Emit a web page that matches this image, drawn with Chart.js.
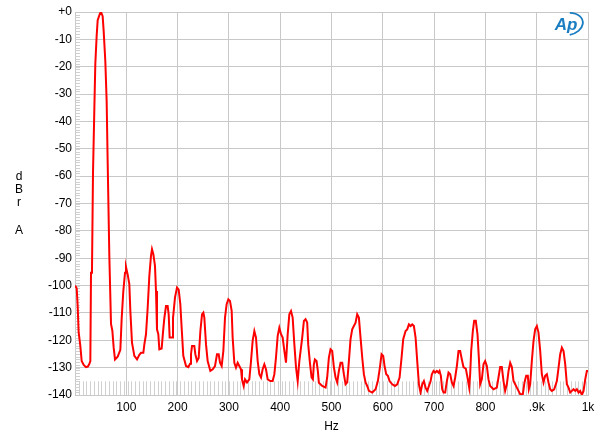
<!DOCTYPE html>
<html>
<head>
<meta charset="utf-8">
<script src="https://cdn.jsdelivr.net/npm/chart.js@4/dist/chart.umd.min.js"></script>
<style>
html,body{margin:0;padding:0;background:#fff;}
#wrap{width:600px;height:443px;}
</style>
</head>
<body>
<div id="wrap"><canvas id="c" width="600" height="443"></canvas></div>
<script>
// Frequency (Hz) of each trace point
const freqHz = [0,3.3,5.2,7.1,10.4,13,17,21.4,25,27.9,29.9,31.2,33.1,35.1,37.7,39.6,42.2,44.2,48.7,50.7,53.9,55.9,59.1,61.7,63.7,66.9,70.2,72.8,75.4,78,83.2,88.4,91,94.2,97.5,99.4,102.7,105.9,107.9,111.1,115.7,120.9,125.4,128.7,133.2,135.2,138.4,141.7,144.9,148.1,150.1,152.7,155.9,157.9,159.8,162.4,164.4,168.9,171.5,174.1,177.4,180.6,182.6,184.5,189.1,191,194.9,198.8,202.1,205.3,207.9,211.1,216.4,220.9,224.2,226.1,228.1,232.6,234.6,237.9,241.1,244.4,247.6,250.2,252.1,255.4,258.6,263.8,268.4,272.9,276.8,280.1,282.7,285.9,289.2,292.4,295.6,298.9,302.1,305.4,307.3,310.6,313.8,317.1,320.3,323.6,325.5,328.8,331.4,335.3,339.8,343.1,346.3,349.6,352.8,356.1,359.3,362.6,365.8,369.1,372.3,375.6,380.8,385.3,388.6,391.8,395.1,398.3,401.6,404.8,408.1,411.3,414.6,417.8,421.1,424.3,427.6,430.8,434.1,437.3,439.7,442.9,446.2,449.4,452.6,454.6,457.8,461.1,463.7,465.6,467.6,470.8,473.4,475.4,481.9,488.4,491.6,494.9,498.1,501.4,504.6,507.9,511.1,514.4,517.6,520.9,524.1,527.4,530.6,533.9,537.1,540.4,543.6,546.9,550.1,553.4,556.6,559.9,563.1,566.4,569.6,572.9,579.4,585.9,590.4,594.3,597.6,600.8,603.4,606.7,609.9,613.2,618.4,623.6,628.1,632.7,636.6,639.8,644.4,647.6,650.9,654.1,657.4,660.6,663.9,667.1,670.4,673.6,676.9,680.1,683.4,686.6,689.9,693.1,695.6,698.9,702.1,705.4,708.6,710.6,713.2,715.8,718.4,721.6,724.9,728.1,731.4,734.6,737.9,741.1,744.4,747.6,750.8,754.1,757.3,761.9,765.1,768.4,770.3,772.3,775.5,778.1,781.3,784.6,787.2,789.8,793,796.3,799.5,802.8,806,809.3,815.8,822.3,825.5,828.8,832,835.3,838.5,841.8,845.1,848.3,851.6,854.8,858.1,861.3,867.8,873,876.2,879.5,882.7,884.7,887.3,890.5,893.8,897,900.3,903.5,906.8,910,913.3,916.5,919.8,923,926.3,929.5,934.1,939.3,942.6,945.8,949.1,952.3,955.6,958.8,962.1,965.3,968.6,971.8,975.1,978.3,981.6,984.8,988.1,991.3,994.6,997.8,1000];
// Level (dBr A) of each trace point
const levelDb = [-100,-101,-107.5,-117,-122,-127.6,-129,-129.8,-129.6,-128.7,-127.6,-95.3,-94.7,-58.7,-35.5,-19,-8.8,-3,-0.5,0,-1.5,-7,-18,-32.5,-55,-89,-114,-116.5,-122.7,-127,-126,-123.5,-112,-102,-95.3,-93.2,-96,-99.5,-109.3,-120.9,-125.7,-127,-125.3,-124.6,-124.6,-121.5,-117.8,-108,-96.5,-89.2,-86.7,-88.5,-92.8,-102,-116,-117.8,-123.3,-123,-117.2,-112,-107.5,-107.5,-110.5,-119,-119,-112,-104.4,-100.7,-101.5,-106.8,-115.4,-125.7,-129.4,-129.8,-128.6,-125.1,-122.1,-122.1,-125.1,-127.6,-126.5,-116.6,-110.5,-109.9,-111.7,-121.5,-127.6,-131.2,-130.6,-129.4,-125.1,-125.1,-128.2,-129.4,-123.9,-111.7,-106.8,-105,-105.6,-109.2,-119,-128.2,-130,-128.2,-129.4,-130.6,-134.3,-136.7,-134.3,-135.4,-134.3,-127.6,-120.2,-116.6,-119,-127.6,-132.4,-133.6,-130.6,-128.8,-130.6,-134.3,-134.9,-134.9,-132.4,-126.3,-118.4,-115.4,-117.8,-119,-123.9,-128.2,-117.8,-110.5,-109.3,-111.7,-121.5,-129.8,-134.9,-127.6,-124,-119,-112.9,-112.3,-113.5,-121.5,-128,-133.6,-134.3,-128.8,-127,-127.6,-131.2,-135.5,-136.7,-137.3,-133.6,-126.3,-123.3,-123.9,-129.8,-133.6,-135.4,-131.2,-128.2,-128.2,-132.4,-136.1,-135.4,-127.6,-119.6,-116,-114.8,-113.6,-110.5,-111.7,-119,-126.3,-132.4,-135.4,-136.7,-138.5,-139.1,-137.9,-134.9,-130,-125.1,-125.7,-129.4,-132.4,-133,-134.9,-136.1,-136.7,-136.1,-133.6,-126.3,-119.6,-116.6,-116,-114.2,-114.8,-114.2,-114.8,-119,-127.6,-136.1,-139.1,-136.1,-134.9,-137.3,-138.5,-136.7,-135,-132.4,-131.2,-131.8,-131.2,-131.8,-131.2,-133,-137.9,-139.1,-139.1,-134.9,-131.8,-132.4,-135.4,-136.7,-133.6,-129.4,-123.9,-123.9,-127,-129.8,-130.4,-133.6,-137.3,-132.4,-123.9,-116.6,-112.9,-112.9,-117.8,-126.3,-136.1,-134.3,-128.8,-127.6,-129.4,-134.3,-136.7,-137.9,-137.3,-133.6,-129.8,-129.8,-134.9,-138.5,-136.1,-131.2,-128.2,-129.8,-134.9,-136.1,-137.3,-139.7,-139.7,-135.4,-133,-133,-137.9,-136.1,-127.6,-120.2,-116,-114.8,-117.2,-123.9,-132.4,-135.4,-133,-132.4,-135.4,-137.9,-138.5,-137.9,-134.9,-130,-125.1,-122.7,-123.9,-128.8,-136.1,-137.3,-139.1,-138.5,-137.9,-138.5,-137.9,-139.1,-138.5,-140,-138.5,-134.3,-131.2,-131.2];

// Axis tick labels
const xTickValues = [100,200,300,400,500,600,700,800,900,1000];
const xTickLabels = ['100','200','300','400','500','600','700','800','.9k','1k'];
const yTickValues = [0,-10,-20,-30,-40,-50,-60,-70,-80,-90,-100,-110,-120,-130,-140];
const yTickLabels = ['+0','-10','-20','-30','-40','-50','-60','-70','-80','-90','-100','-110','-120','-130','-140'];
const yTitleLetters = ['d','B','r','','A'];
const xTitle = 'Hz';

const points = freqHz.map((f,i)=>({x:f,y:levelDb[i]}));
const FONT = '"Liberation Sans", Arial, sans-serif';
const GRID = '#c8c8c8';

const decor = {
  id:'decor',
  beforeDatasetsDraw(chart){
    const ctx = chart.ctx, xs = chart.scales.x, ys = chart.scales.y, a = chart.chartArea;
    ctx.save();
    ctx.strokeStyle = '#d0d0d0';
    ctx.lineWidth = 1;
    ctx.beginPath();
    for (let f = 7.324; f < 1000; f += 7.324) {
      const px = Math.round(xs.getPixelForValue(f)) + 0.5;
      ctx.moveTo(px, ys.getPixelForValue(-135));
      ctx.lineTo(px, a.bottom);
    }
    for (let v = -1; v > -140; v -= 1) {
      const py = Math.round(ys.getPixelForValue(v)) + 0.5;
      ctx.moveTo(a.left, py);
      ctx.lineTo(a.left + 5, py);
    }
    ctx.stroke();
    ctx.restore();
  },
  afterDraw(chart){
    const ctx = chart.ctx;
    ctx.save();
    ctx.fillStyle = '#000';
    ctx.font = '12px ' + FONT;
    ctx.textAlign = 'center';
    ctx.textBaseline = 'middle';
    const ys0 = [177,190,203,217,231];
    yTitleLetters.forEach((t,i)=>{ if (t) ctx.fillText(t, 19, ys0[i]); });
    ctx.fillStyle = '#1a7cc1';
    ctx.strokeStyle = '#1a7cc1';
    ctx.font = 'italic bold 17px ' + FONT;
    ctx.fillText('Ap', 566, 25);
    ctx.lineWidth = 1.8;
    ctx.beginPath();
    ctx.ellipse(568, 24, 15, 11, -0.2, -1.3, 1.6);
    ctx.stroke();
    ctx.restore();
  }
};

new Chart(document.getElementById('c'), {
  type:'line',
  data:{datasets:[{data:points, borderColor:'#ff0000', borderWidth:2, pointRadius:0, tension:0, fill:false}]},
  plugins:[decor],
  options:{
    responsive:false, animation:false,
    layout:{padding:{left:0,right:12,top:12,bottom:0}},
    plugins:{legend:{display:false}, tooltip:{enabled:false}},
    scales:{
      x:{
        type:'linear', min:0, max:1000,
        afterBuildTicks(s){ s.ticks = [0].concat(xTickValues).map(v=>({value:v})); },
        afterFit(s){ s.height = 48; },
        ticks:{ callback:(v)=>{ const i = xTickValues.indexOf(v); return i<0?'':xTickLabels[i]; }, color:'#000', font:{family:FONT,size:12}, padding:5, maxRotation:0, autoSkip:false },
        grid:{ color:GRID, drawTicks:false, lineWidth:1 },
        border:{ color:GRID },
        title:{ display:true, text:xTitle, color:'#000', font:{family:FONT,size:12}, padding:{top:4,bottom:9} }
      },
      y:{
        type:'linear', min:-140, max:0,
        afterBuildTicks(s){ s.ticks = yTickValues.map(v=>({value:v})); },
        afterFit(s){ s.width = 75; },
        ticks:{ callback:(v)=>{ const i = yTickValues.indexOf(v); return i<0?'':yTickLabels[i]; }, color:'#000', font:{family:FONT,size:12}, padding:3, autoSkip:false },
        grid:{ color:GRID, drawTicks:false, lineWidth:1 },
        border:{ color:GRID }
      }
    }
  }
});
</script>
</body>
</html>
